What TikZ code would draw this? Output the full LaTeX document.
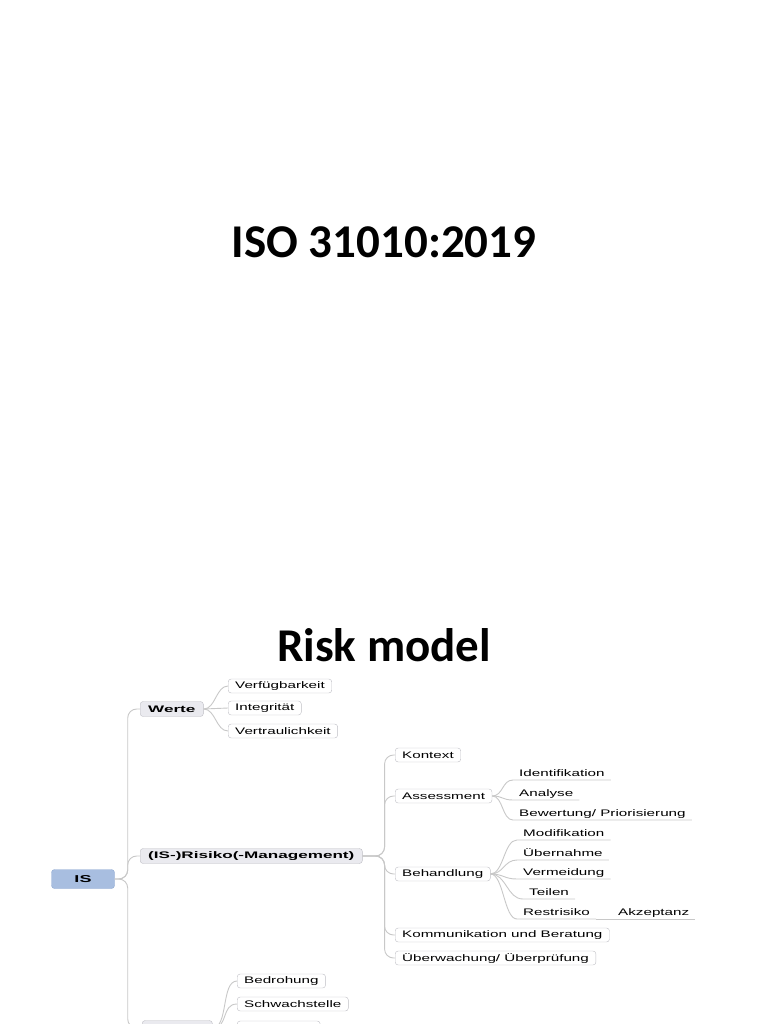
\documentclass[tikz,border=0pt]{standalone}
\usepackage{fontspec}
\setmainfont{Liberation Sans}
\newfontfamily\titlefont{Carlito}
\newfontfamily\mapfont[FakeStretch=1.6]{Liberation Sans}
\newfontfamily\mapbold[FakeStretch=1.8]{Liberation Sans}
\newcommand\headfont{\titlefont\bfseries\fontsize{47}{56}\selectfont}
\newcommand\itemfont{\mapfont\fontsize{9.5}{11}\selectfont}
\newcommand\topicfont{\mapbold\bfseries\fontsize{9.5}{11}\selectfont}
\newcommand\rootfont{\mapbold\bfseries\fontsize{10}{12}\selectfont}

\definecolor{linkgray}{RGB}{200,200,200}
\definecolor{boxline}{RGB}{190,190,196}
\definecolor{topicfill}{RGB}{234,234,239}
\definecolor{rootfill}{RGB}{168,190,224}
\definecolor{rootline}{RGB}{145,170,210}

\tikzset{
  head/.style={font=\headfont, anchor=base, inner sep=0pt},
  root/.style={draw=rootline, fill=rootfill, rounded corners=3pt, font=\rootfont,
    minimum width=63pt, minimum height=19pt, inner sep=0pt},
  topic/.style={draw=boxline, fill=topicfill, rounded corners=3pt, font=\topicfont,
    inner xsep=8pt, inner ysep=0pt, minimum height=15pt, anchor=west},
  item/.style={draw=boxline, fill=white, rounded corners=3pt, font=\itemfont,
    inner xsep=7pt, inner ysep=0pt, minimum height=14pt, anchor=west},
  leaf/.style={font=\itemfont, inner xsep=6pt, inner ysep=1pt, text depth=2pt,
    anchor=south west},
  link/.style={draw=linkgray, line width=0.9pt},
  trunk/.style={link, rounded corners=9pt}
}

\begin{document}
\begin{tikzpicture}[x=1pt,y=-1pt]
\useasboundingbox (0,0) rectangle (768,1024);
\clip (0,0) rectangle (768,1024);

\node[head] (iso) at (384,257) {ISO 31010:2019};
\node[head] (riskmodel) at (384,661) {Risk model};

\node[root] (is) at (83,879) {IS};

\node[topic] (werte) at (140,709) {Werte};
\node[topic] (risiko) at (140,856) {(IS-)Risiko(-Management)};
\node[topic] (modell) at (142,1028) {Modell};

\node[item] (verf) at (228,686) {Verfügbarkeit};
\node[item] (integ) at (228,708) {Integrität};
\node[item] (vertr) at (228,731) {Vertraulichkeit};

\node[item] (bedr) at (237,981) {Bedrohung};
\node[item] (schw) at (237,1004) {Schwachstelle};
\node[item, minimum width=83pt] (third) at (237,1028) {};

\node[item] (kontext) at (395,755) {Kontext};
\node[item] (assess) at (395,796) {Assessment};
\node[item] (behandl) at (395,874) {Behandlung};
\node[item] (komm) at (395,935) {Kommunikation und Beratung};
\node[item] (ueberw) at (395,958) {Überwachung/ Überprüfung};

\node[leaf] (ident) at (513,780) {Identifikation};
\node[leaf] (analyse) at (513,800) {Analyse};
\node[leaf] (bewert) at (513,820) {Bewertung/ Priorisierung};

\node[leaf] (modif) at (517,840) {Modifikation};
\node[leaf] (uebern) at (517,860) {Übernahme};
\node[leaf] (vermeid) at (517,879) {Vermeidung};
\node[leaf] (teilen) at (523,899) {Teilen};
\node[leaf] (rest) at (517,919) {Restrisiko};
\node[leaf] (akzept) at (612,919) {Akzeptanz};

\draw[trunk] (is.east) -- ++(13,0) |- (werte.west);
\draw[trunk] (is.east) -- ++(13,0) |- (risiko.west);
\draw[trunk] (is.east) -- ++(13,0) |- (modell.west);

\draw[link] (werte.east) .. controls +(12,0) and +(-12,0) .. (verf.west);
\draw[link] (werte.east) -- (integ.west);
\draw[link] (werte.east) .. controls +(12,0) and +(-12,0) .. (vertr.west);

\draw[link] (modell.east) .. controls +(16,0) and +(-16,0) .. (bedr.west);
\draw[link] (modell.east) .. controls +(16,0) and +(-16,0) .. (schw.west);
\draw[link] (modell.east) -- (third.west);

\draw[trunk] (risiko.east) -- ++(22,0) |- (kontext.west);
\draw[trunk] (risiko.east) -- ++(22,0) |- (assess.west);
\draw[trunk] (risiko.east) -- ++(22,0) |- (behandl.west);
\draw[trunk] (risiko.east) -- ++(22,0) |- (komm.west);
\draw[trunk] (risiko.east) -- ++(22,0) |- (ueberw.west);

\draw[link] (assess.east) .. controls +(11,0) and +(-11,0) .. (ident.south west) -- (ident.south east);
\draw[link] (assess.east) .. controls +(11,0) and +(-11,0) .. (analyse.south west) -- (analyse.south east);
\draw[link] (assess.east) .. controls +(11,0) and +(-11,0) .. (bewert.south west) -- (bewert.south east);

\draw[link] (behandl.east) .. controls +(13,0) and +(-13,0) .. (modif.south west) -- (modif.south east);
\draw[link] (behandl.east) .. controls +(13,0) and +(-13,0) .. (uebern.south west) -- (uebern.south east);
\draw[link] (behandl.east) .. controls +(13,0) and +(-13,0) .. (vermeid.south west) -- (vermeid.south east);
\draw[link] (behandl.east) .. controls +(16,0) and +(-16,0) .. (teilen.south west) -- (teilen.south east);
\draw[link] (behandl.east) .. controls +(13,0) and +(-13,0) .. (rest.south west) -- (rest.south east);
\draw[link] (rest.south east) -- (akzept.south west) -- (akzept.south east);
\end{tikzpicture}
\end{document}
